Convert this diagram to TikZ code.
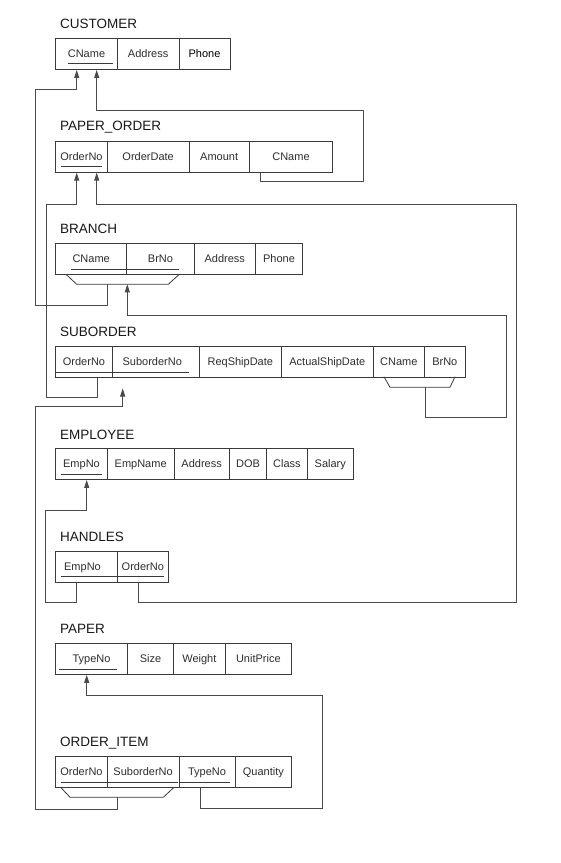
\documentclass[tikz,border=0pt]{standalone}
\usepackage{fontspec}
\setmainfont{Liberation Sans}
\usetikzlibrary{arrows.meta,calc}
\definecolor{boxline}{HTML}{3A3A3A}
\definecolor{conline}{HTML}{4A4A4A}
\definecolor{txt}{HTML}{2E2E2E}
\newcommand{\fcell}[5]{\node[fld, minimum width={#3pt-#2pt}] (#1) at ({(#2+#3)/2},#4) {#5};}
\begin{document}
\begin{tikzpicture}[x=1pt,y=-1pt,
  fld/.style={draw=boxline, line width=0.9pt, minimum height=31pt, inner sep=0pt,
    text height=7.9pt, text depth=0pt,
    font=\fontsize{11}{13}\selectfont, text=txt},
  ttl/.style={anchor=base west, inner sep=0pt, font=\fontsize{13.5}{16}\selectfont, text=black!90},
  uline/.style={draw=boxline, line width=0.8pt},
  brk/.style={draw=boxline, line width=0.8pt},
  fk/.style={draw=conline, line width=0.9pt, -{Triangle[length=8pt,width=5pt]}},
  conn/.style={draw=conline, line width=0.9pt}]
\useasboundingbox (0,0) rectangle (561,863);
\fill[white] (0,0) rectangle (561,863);

% CUSTOMER
\node[ttl] (tcust) at (60,28.6) {CUSTOMER};
\fcell{cu1}{55.7}{117.3}{54}{CName}
\fcell{cu2}{117.3}{179}{54}{Address}
\fcell{cu3}{179}{230}{54}{\textcolor{black}{Phone}}
\draw[uline] (67.7,63.3) -- (112.7,63.3);

% PAPER_ORDER
\node[ttl] (tpo) at (60,130) {PAPER\_ORDER};
\fcell{po1}{55.7}{107.3}{156.7}{OrderNo}
\fcell{po2}{107.3}{189}{156.7}{OrderDate}
\fcell{po3}{189}{249.3}{156.7}{Amount}
\fcell{po4}{249.3}{332.7}{156.7}{CName}
\draw[uline] (61,166.7) -- (102.3,166.7);

% BRANCH
\node[ttl] (tbr) at (60,233) {BRANCH};
\fcell{br1}{55.7}{126.7}{259}{CName}
\fcell{br2}{126.7}{194.3}{259}{BrNo}
\fcell{br3}{194.3}{255.3}{259}{Address}
\fcell{br4}{255.3}{302.7}{259}{Phone}
\draw[uline] (71,269) -- (179,269);
\draw[brk] (66,274.3) -- (76.7,284.3) -- (168.3,284.3) -- (179.3,274.3);

% SUBORDER
\node[ttl] (tso) at (60,336) {SUBORDER};
\fcell{so1}{55.7}{112.3}{361.7}{OrderNo}
\fcell{so2}{112.3}{199.3}{361.7}{SuborderNo\hspace*{7pt}}
\fcell{so3}{199.3}{281.3}{361.7}{ReqShipDate}
\fcell{so4}{281.3}{373.3}{361.7}{ActualShipDate}
\fcell{so5}{373.3}{424.3}{361.7}{CName}
\fcell{so6}{424.3}{465.3}{361.7}{BrNo}
\draw[uline] (56,372.7) -- (189,372.7);
\draw[brk] (384,376.7) -- (390,387.3) -- (450,387.3) -- (455,376.7);

% EMPLOYEE
\node[ttl] (tem) at (60,439) {EMPLOYEE};
\fcell{em1}{55.7}{107.3}{464}{EmpNo}
\fcell{em2}{107.3}{174}{464}{EmpName}
\fcell{em3}{174}{229.3}{464}{Address}
\fcell{em4}{229.3}{266.7}{464}{DOB}
\fcell{em5}{266.7}{307.3}{464}{Class}
\fcell{em6}{307.3}{353.3}{464}{Salary}
\draw[uline] (60.7,474) -- (102.3,474);

% HANDLES
\node[ttl] (tha) at (60,541.5) {HANDLES};
\fcell{ha1}{55.7}{117.3}{567}{EmpNo\hspace*{8pt}}
\fcell{ha2}{117.3}{168.3}{567}{OrderNo}
\draw[uline] (60.7,576.7) -- (164,576.7);

% PAPER
\node[ttl] (tpa) at (60,633) {PAPER};
\fcell{pa1}{55.7}{127.3}{659}{TypeNo}
\fcell{pa2}{127.3}{173.7}{659}{Size}
\fcell{pa3}{173.7}{225}{659}{Weight}
\fcell{pa4}{225}{291.7}{659}{UnitPrice}
\draw[uline] (59,669.3) -- (117.3,669.3);

% ORDER_ITEM
\node[ttl] (toi) at (60,746.5) {ORDER\_ITEM};
\fcell{oi1}{55.7}{107.3}{772}{OrderNo}
\fcell{oi2}{107.3}{179}{772}{SuborderNo}
\fcell{oi3}{179}{235}{772}{TypeNo}
\fcell{oi4}{235}{291.7}{772}{Quantity}
\draw[uline] (60.7,782.3) -- (177.7,782.3);
\draw[uline] (180,782.3) -- (230,782.3);
\draw[brk] (60.7,787.3) -- (70,797.3) -- (163.3,797.3) -- (174,787.3);

% connector end points
\coordinate (brkB) at (107.3,284.3);
\coordinate (brkS) at (425,387.3);
\coordinate (brkO) at (117.3,797.3);
\coordinate (brTip) at (127.3,284.3);
\coordinate (soTip) at (122.7,388.5);

% 1 BRANCH.CName -> CUSTOMER.CName
\draw[fk] (brkB) |- (35.7,305) |- (76.7,89.3) -- (cu1.south -| 76.7,0);
% 2 PAPER_ORDER.CName -> CUSTOMER.CName
\draw[fk] (po4.south -| 260.7,0) |- (363.3,181.7) |- (96.7,110) -- (cu1.south -| 96.7,0);
% 3 SUBORDER.OrderNo -> PAPER_ORDER.OrderNo
\draw[fk] (so1.south -| 97.3,0) |- (46,397.3) |- (76.7,204) -- (po1.south -| 76.7,0);
% 4 HANDLES.OrderNo -> PAPER_ORDER.OrderNo
\draw[fk] (ha2.south -| 138.3,0) |- (516.7,602.3) |- (96.7,204) -- (po1.south -| 96.7,0);
% 5 SUBORDER.(CName,BrNo) -> BRANCH
\draw[fk] (brkS) |- (506,417.7) |- (127.3,315) -- (brTip);
% 6 ORDER_ITEM.(OrderNo,SuborderNo) -> SUBORDER
\draw[fk] (brkO) |- (35.7,809) |- (122.7,406.7) -- (soTip);
% 7 HANDLES.EmpNo -> EMPLOYEE.EmpNo
\draw[fk] (ha1.south -| 76,0) |- (45.7,602.3) |- (86.7,510) -- (em1.south -| 86.7,0);
% 8 ORDER_ITEM.TypeNo -> PAPER.TypeNo
\draw[fk] (oi3.south -| 200,0) |- (322.7,808.3) |- (86.7,695) -- (pa1.south -| 86.7,0);
\end{tikzpicture}
\end{document}
